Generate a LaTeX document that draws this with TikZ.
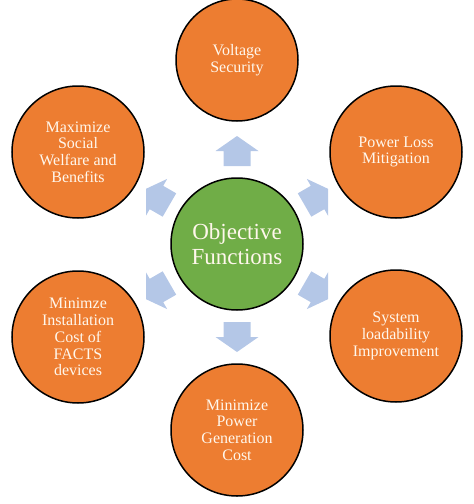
\documentclass[tikz,border=0pt]{standalone}
\usepackage{fontspec}
\setmainfont{Liberation Serif}
\definecolor{orangef}{HTML}{ED7D31}
\definecolor{greenf}{HTML}{70AD47}
\definecolor{arrowblue}{HTML}{B4C7E7}
\definecolor{txt}{HTML}{FFF7EC}
\newcommand{\blockarrowat}[2]{%
  \begin{scope}[shift={(#1)}, rotate=#2]
    \fill[arrowblue] (78,-13.5) -- (93,-13.5) -- (93,-21.5) -- (108,0) -- (93,21.5) -- (93,13.5) -- (78,13.5) -- cycle;
  \end{scope}}
\begin{document}
\begin{tikzpicture}[x=1pt,y=-1pt,
  outer/.style={circle, draw=black, line width=1.5pt, fill=orangef, text=txt,
    minimum size=132pt, inner sep=0pt, align=center,
    font=\fontsize{16}{16.8}\selectfont},
  hub/.style={circle, draw=black, line width=1.5pt, fill=greenf, text=txt,
    minimum size=132pt, inner sep=0pt, align=center,
    font=\fontsize{23}{25}\selectfont}]
\useasboundingbox (0,0) rectangle (474,504);
\node[hub] (c) at (237,244) {Objective\\Functions};
\node[outer, minimum size=122pt] (t) at (237,60) {Voltage\\Security};
\node[outer] (ur) at (396,152) {Power Loss\\Mitigation};
\node[outer] (lr) at (396,336) {System\\loadability\\Improvement};
\node[outer] (b) at (237,430) {Minimize\\Power\\Generation\\Cost};
\node[outer] (ll) at (78,337) {Minimze\\Installation\\Cost of\\FACTS\\devices};
\node[outer] (ul) at (78,152) {Maximize\\Social\\Welfare and\\Benefits};
\begin{scope}
  \clip (146,0) rectangle (328,504);
  \blockarrowat{c}{-90}
  \blockarrowat{c}{90}
  \blockarrowat{c}{-30}
  \blockarrowat{c}{30}
  \blockarrowat{c}{-150}
  \blockarrowat{c}{150}
\end{scope}
\end{tikzpicture}
\end{document}
